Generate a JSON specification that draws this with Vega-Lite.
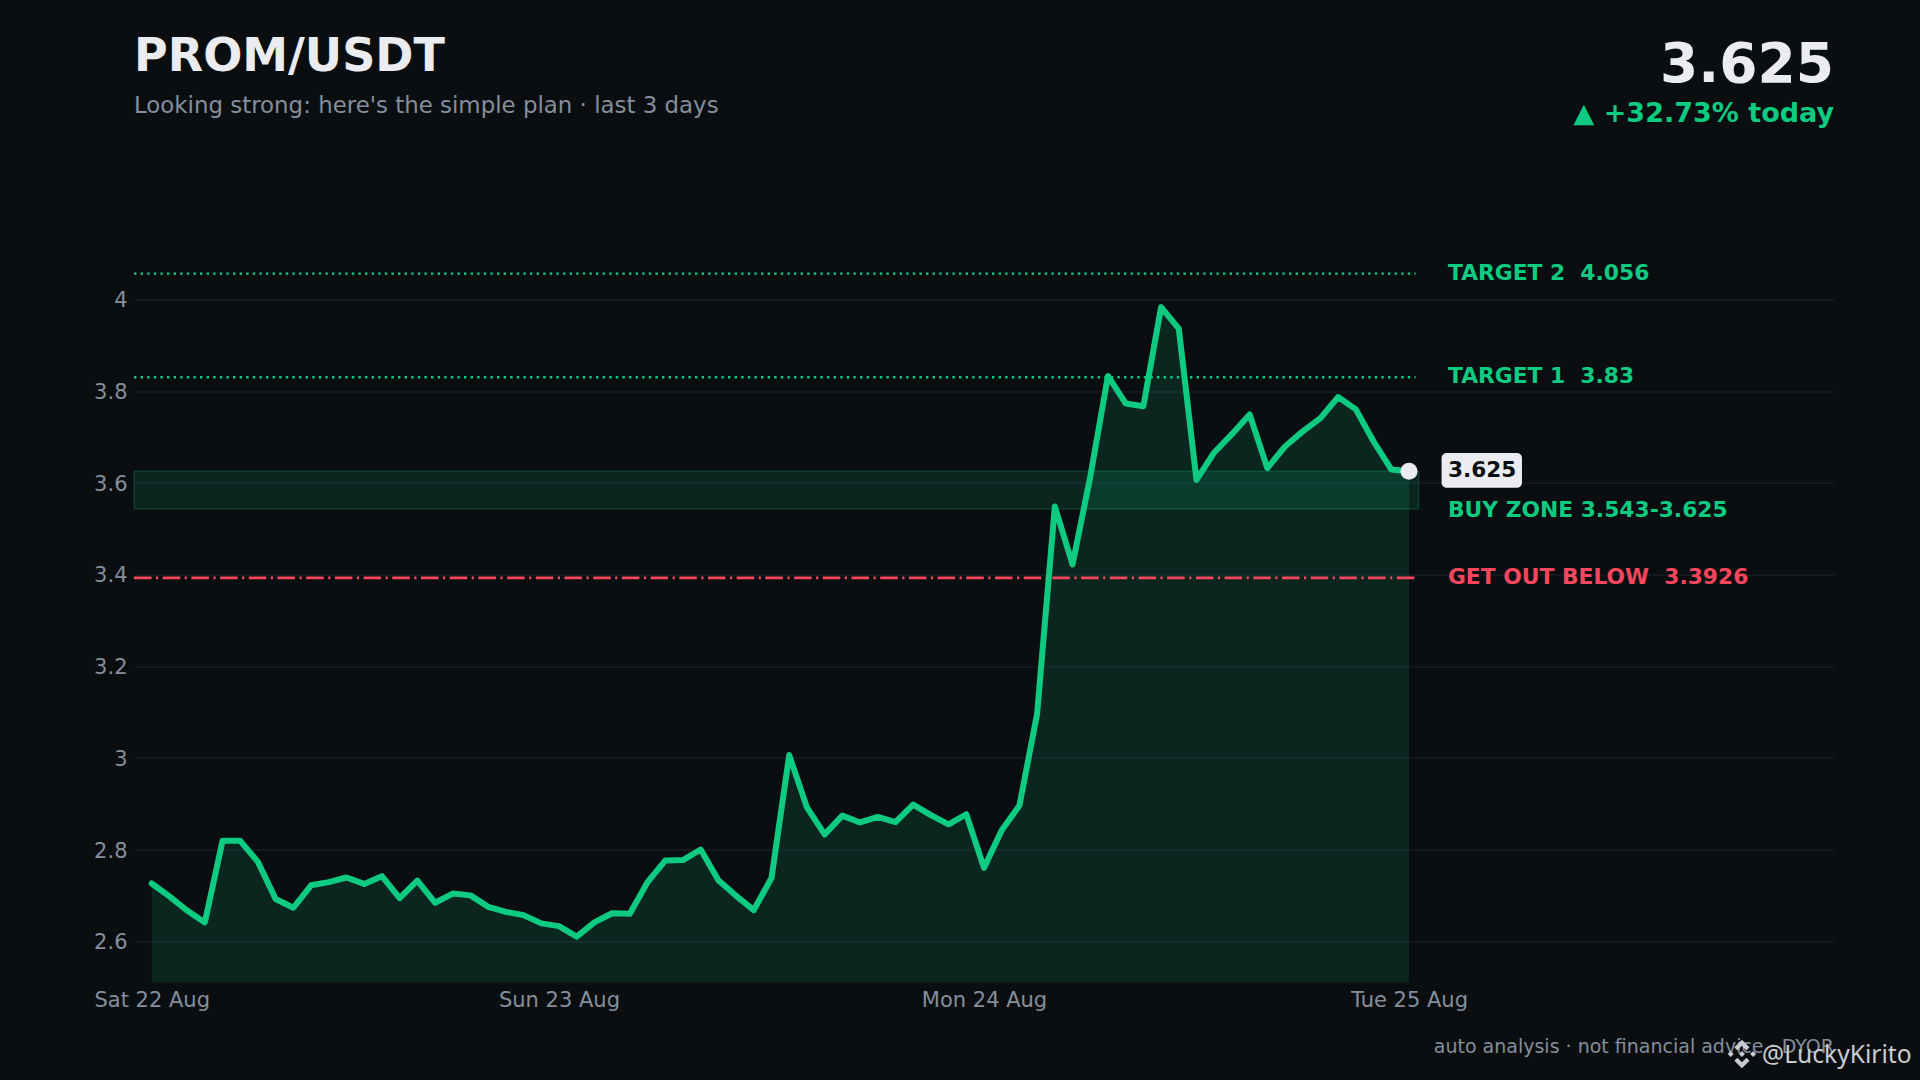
{
  "$schema": "https://vega.github.io/schema/vega-lite/v6.json",
  "width": 1700,
  "height": 729,
  "autosize": {"type": "none"},
  "padding": {"left": 134, "top": 253.5, "right": 86, "bottom": 97.5},
  "background": "#0b0e11",
  "title": {
    "text": "PROM/USDT",
    "subtitle": "Looking strong: here's the simple plan · last 3 days",
    "anchor": "start",
    "frame": "group",
    "font": "DejaVu Sans",
    "fontSize": 46,
    "fontWeight": "bold",
    "color": "#eaecef",
    "subtitleFont": "DejaVu Sans",
    "subtitleFontSize": 22.9,
    "subtitleColor": "#848e9c",
    "subtitlePadding": 14,
    "offset": -80
  },
  "datasets": {
    "price": [
      {"i": 0, "price": 2.726}, {"i": 1, "price": 2.698}, {"i": 2, "price": 2.667}, {"i": 3, "price": 2.641},
      {"i": 4, "price": 2.819}, {"i": 5, "price": 2.819}, {"i": 6, "price": 2.773}, {"i": 7, "price": 2.692},
      {"i": 8, "price": 2.673}, {"i": 9, "price": 2.722}, {"i": 10, "price": 2.729}, {"i": 11, "price": 2.739},
      {"i": 12, "price": 2.725}, {"i": 13, "price": 2.742}, {"i": 14, "price": 2.694}, {"i": 15, "price": 2.732},
      {"i": 16, "price": 2.684}, {"i": 17, "price": 2.704}, {"i": 18, "price": 2.7}, {"i": 19, "price": 2.675},
      {"i": 20, "price": 2.664}, {"i": 21, "price": 2.657}, {"i": 22, "price": 2.639}, {"i": 23, "price": 2.633},
      {"i": 24, "price": 2.61}, {"i": 25, "price": 2.641}, {"i": 26, "price": 2.661}, {"i": 27, "price": 2.66},
      {"i": 28, "price": 2.729}, {"i": 29, "price": 2.776}, {"i": 30, "price": 2.777}, {"i": 31, "price": 2.8},
      {"i": 32, "price": 2.733}, {"i": 33, "price": 2.699}, {"i": 34, "price": 2.668}, {"i": 35, "price": 2.738},
      {"i": 36, "price": 3.006}, {"i": 37, "price": 2.892}, {"i": 38, "price": 2.833}, {"i": 39, "price": 2.874},
      {"i": 40, "price": 2.859}, {"i": 41, "price": 2.871}, {"i": 42, "price": 2.86}, {"i": 43, "price": 2.898},
      {"i": 44, "price": 2.875}, {"i": 45, "price": 2.855}, {"i": 46, "price": 2.877}, {"i": 47, "price": 2.76},
      {"i": 48, "price": 2.842}, {"i": 49, "price": 2.896}, {"i": 50, "price": 3.096}, {"i": 51, "price": 3.548},
      {"i": 52, "price": 3.422}, {"i": 53, "price": 3.613}, {"i": 54, "price": 3.833}, {"i": 55, "price": 3.773},
      {"i": 56, "price": 3.767}, {"i": 57, "price": 3.983}, {"i": 58, "price": 3.936}, {"i": 59, "price": 3.606},
      {"i": 60, "price": 3.666}, {"i": 61, "price": 3.706}, {"i": 62, "price": 3.749}, {"i": 63, "price": 3.632},
      {"i": 64, "price": 3.679}, {"i": 65, "price": 3.712}, {"i": 66, "price": 3.741}, {"i": 67, "price": 3.787},
      {"i": 68, "price": 3.76}, {"i": 69, "price": 3.69}, {"i": 70, "price": 3.629}, {"i": 71, "price": 3.625}
    ],
    "levels": [
      {"label": "TARGET 2\u00a0\u00a04.056", "level": 4.056, "kind": "target"},
      {"label": "TARGET 1\u00a0\u00a03.83", "level": 3.83, "kind": "target"},
      {"label": "BUY ZONE 3.543-3.625", "level": 3.543, "kind": "zone"},
      {"label": "GET OUT BELOW\u00a0\u00a03.3926", "level": 3.3926, "kind": "stop"}
    ]
  },
  "layer": [
    {
      "data": {"name": "price"},
      "mark": {"type": "area", "color": "#0ecb81", "opacity": 0.13},
      "encoding": {
        "x": {
          "field": "i",
          "type": "quantitative",
          "scale": {"domain": [-1, 95], "nice": false, "zero": false},
          "axis": {
            "title": null,
            "values": [0, 23, 47, 71],
            "labelExpr": "datum.value == 0 ? 'Sat 22 Aug' : datum.value == 23 ? 'Sun 23 Aug' : datum.value == 47 ? 'Mon 24 Aug' : 'Tue 25 Aug'",
            "grid": false,
            "domain": false,
            "ticks": false,
            "labelPadding": 7,
            "labelFontSize": 21,
            "labelFont": "DejaVu Sans",
            "labelColor": "#848e9c",
            "labelOverlap": false,
            "labelBound": false,
            "labelFlush": false
          }
        },
        "y": {
          "field": "price",
          "type": "quantitative",
          "scale": {"domain": [2.51, 4.1], "nice": false, "zero": false},
          "axis": {
            "title": null,
            "values": [2.6, 2.8, 3, 3.2, 3.4, 3.6, 3.8, 4],
            "format": "~g",
            "grid": true,
            "gridColor": "#171c24",
            "gridWidth": 1.5,
            "domain": false,
            "ticks": false,
            "labelPadding": 7,
            "labelOffset": 1.5,
            "labelFontSize": 21,
            "labelFont": "DejaVu Sans",
            "labelColor": "#848e9c"
          }
        },
        "y2": {"datum": 2.51}
      }
    },
    {
      "data": {"values": [{"low": 3.543, "high": 3.625}]},
      "mark": {"type": "rect", "color": "#0ecb81", "fillOpacity": 0.13, "stroke": "#0ecb81", "strokeOpacity": 0.2, "strokeWidth": 1.5},
      "encoding": {
        "x": {"datum": -1, "type": "quantitative"},
        "x2": {"datum": 71.54},
        "y": {"field": "low", "type": "quantitative", "title": null},
        "y2": {"field": "high"}
      }
    },
    {
      "data": {"name": "levels"},
      "transform": [{"filter": "datum.kind == 'target'"}],
      "mark": {"type": "rule", "color": "#0ecb81", "strokeWidth": 2.4, "strokeDash": [2.4, 4.2]},
      "encoding": {
        "x": {"datum": -1, "type": "quantitative"},
        "x2": {"datum": 71.37},
        "y": {"field": "level", "type": "quantitative", "title": null}
      }
    },
    {
      "data": {"name": "levels"},
      "transform": [{"filter": "datum.kind == 'stop'"}],
      "mark": {"type": "rule", "color": "#f6465d", "strokeWidth": 2.6, "strokeDash": [17.5, 4.5, 2.2, 4.5]},
      "encoding": {
        "x": {"datum": -1, "type": "quantitative"},
        "x2": {"datum": 71.37},
        "y": {"field": "level", "type": "quantitative", "title": null}
      }
    },
    {
      "data": {"name": "price"},
      "mark": {"type": "line", "color": "#0ecb81", "strokeWidth": 6, "strokeJoin": "round", "strokeCap": "round"},
      "encoding": {
        "x": {"field": "i", "type": "quantitative", "title": null},
        "y": {"field": "price", "type": "quantitative", "title": null}
      }
    },
    {
      "data": {"name": "price"},
      "transform": [{"filter": "datum.i == 71"}],
      "mark": {"type": "point", "filled": true, "color": "#eaecef", "opacity": 1, "size": 290},
      "encoding": {
        "x": {"field": "i", "type": "quantitative", "title": null},
        "y": {"field": "price", "type": "quantitative", "title": null}
      }
    },
    {
      "data": {"values": [{"last": "3.625"}]},
      "mark": {"type": "rect", "color": "#eaecef", "cornerRadius": 5},
      "encoding": {
        "x": {"datum": 72.84, "type": "quantitative"},
        "x2": {"datum": 77.38},
        "y": {"datum": 3.665, "type": "quantitative"},
        "y2": {"datum": 3.589}
      }
    },
    {
      "data": {"values": [{"last": "3.625"}]},
      "mark": {"type": "text", "align": "left", "baseline": "middle", "font": "DejaVu Sans", "fontWeight": "bold", "fontSize": 21.6, "color": "#0b0e11"},
      "encoding": {
        "x": {"datum": 73.2, "type": "quantitative"},
        "y": {"datum": 3.626, "type": "quantitative"},
        "text": {"field": "last"}
      }
    },
    {
      "data": {"name": "levels"},
      "transform": [{"filter": "datum.kind != 'zone'"}],
      "mark": {"type": "text", "align": "left", "baseline": "middle", "dy": -1, "font": "DejaVu Sans", "fontWeight": "bold", "fontSize": 21.8},
      "encoding": {
        "x": {"datum": 73.2, "type": "quantitative"},
        "y": {"field": "level", "type": "quantitative", "title": null},
        "text": {"field": "label"},
        "color": {
          "field": "kind",
          "type": "nominal",
          "legend": null,
          "scale": {"domain": ["target", "zone", "stop"], "range": ["#0ecb81", "#0ecb81", "#f6465d"]}
        }
      }
    },
    {
      "data": {"name": "levels"},
      "transform": [{"filter": "datum.kind == 'zone'"}],
      "mark": {"type": "text", "align": "left", "baseline": "middle", "dy": 1, "font": "DejaVu Sans", "fontWeight": "bold", "fontSize": 21.8},
      "encoding": {
        "x": {"datum": 73.2, "type": "quantitative"},
        "y": {"field": "level", "type": "quantitative", "title": null},
        "text": {"field": "label"},
        "color": {"field": "kind", "type": "nominal", "legend": null}
      }
    },
    {
      "data": {"values": [{"t": "3.625"}]},
      "mark": {"type": "text", "align": "right", "baseline": "alphabetic", "font": "DejaVu Sans", "fontWeight": "bold", "fontSize": 55, "color": "#eaecef"},
      "encoding": {
        "x": {"datum": 95, "type": "quantitative"},
        "y": {"datum": 4.473, "type": "quantitative"},
        "text": {"field": "t"}
      }
    },
    {
      "data": {"values": [{"t": "▲ +32.73% today"}]},
      "mark": {"type": "text", "align": "right", "baseline": "alphabetic", "font": "DejaVu Sans", "fontWeight": "bold", "fontSize": 27, "color": "#0ecb81"},
      "encoding": {
        "x": {"datum": 95, "type": "quantitative"},
        "y": {"datum": 4.387, "type": "quantitative"},
        "text": {"field": "t"}
      }
    },
    {
      "data": {"values": [{"t": "auto analysis · not financial advice · DYOR"}]},
      "mark": {"type": "text", "align": "right", "baseline": "alphabetic", "font": "DejaVu Sans", "fontSize": 19, "color": "#848e9c"},
      "encoding": {
        "x": {"datum": 95, "type": "quantitative"},
        "y": {"datum": 2.357, "type": "quantitative"},
        "text": {"field": "t"}
      }
    },
    {
      "data": {"values": [{"t": "@LuckyKirito"}]},
      "mark": {"type": "text", "align": "left", "baseline": "alphabetic", "font": "Noto Sans", "fontSize": 24.6, "color": "#c8ccd2"},
      "encoding": {
        "x": {"datum": 90.94, "type": "quantitative"},
        "y": {"datum": 2.335, "type": "quantitative"},
        "text": {"field": "t"}
      }
    },
    {
      "data": {"values": [{"t": "logo"}]},
      "mark": {
        "type": "point",
        "filled": true,
        "opacity": 1,
        "color": "#c8ccd2",
        "size": 920,
        "shape": "M0 -.2L.2 0L0 .2L-.2 0ZM-.94 0L-.74 -.2L-.54 0L-.74 .2ZM.94 0L.74 -.2L.54 0L.74 .2ZM0 -.94L.5 -.44L.3 -.24L0 -.54L-.3 -.24L-.5 -.44ZM0 .94L.5 .44L.3 .24L0 .54L-.3 .24L-.5 .44Z"
      },
      "encoding": {
        "x": {"datum": 89.8, "type": "quantitative"},
        "y": {"datum": 2.354, "type": "quantitative"}
      }
    }
  ],
  "config": {"view": {"stroke": null}}
}
